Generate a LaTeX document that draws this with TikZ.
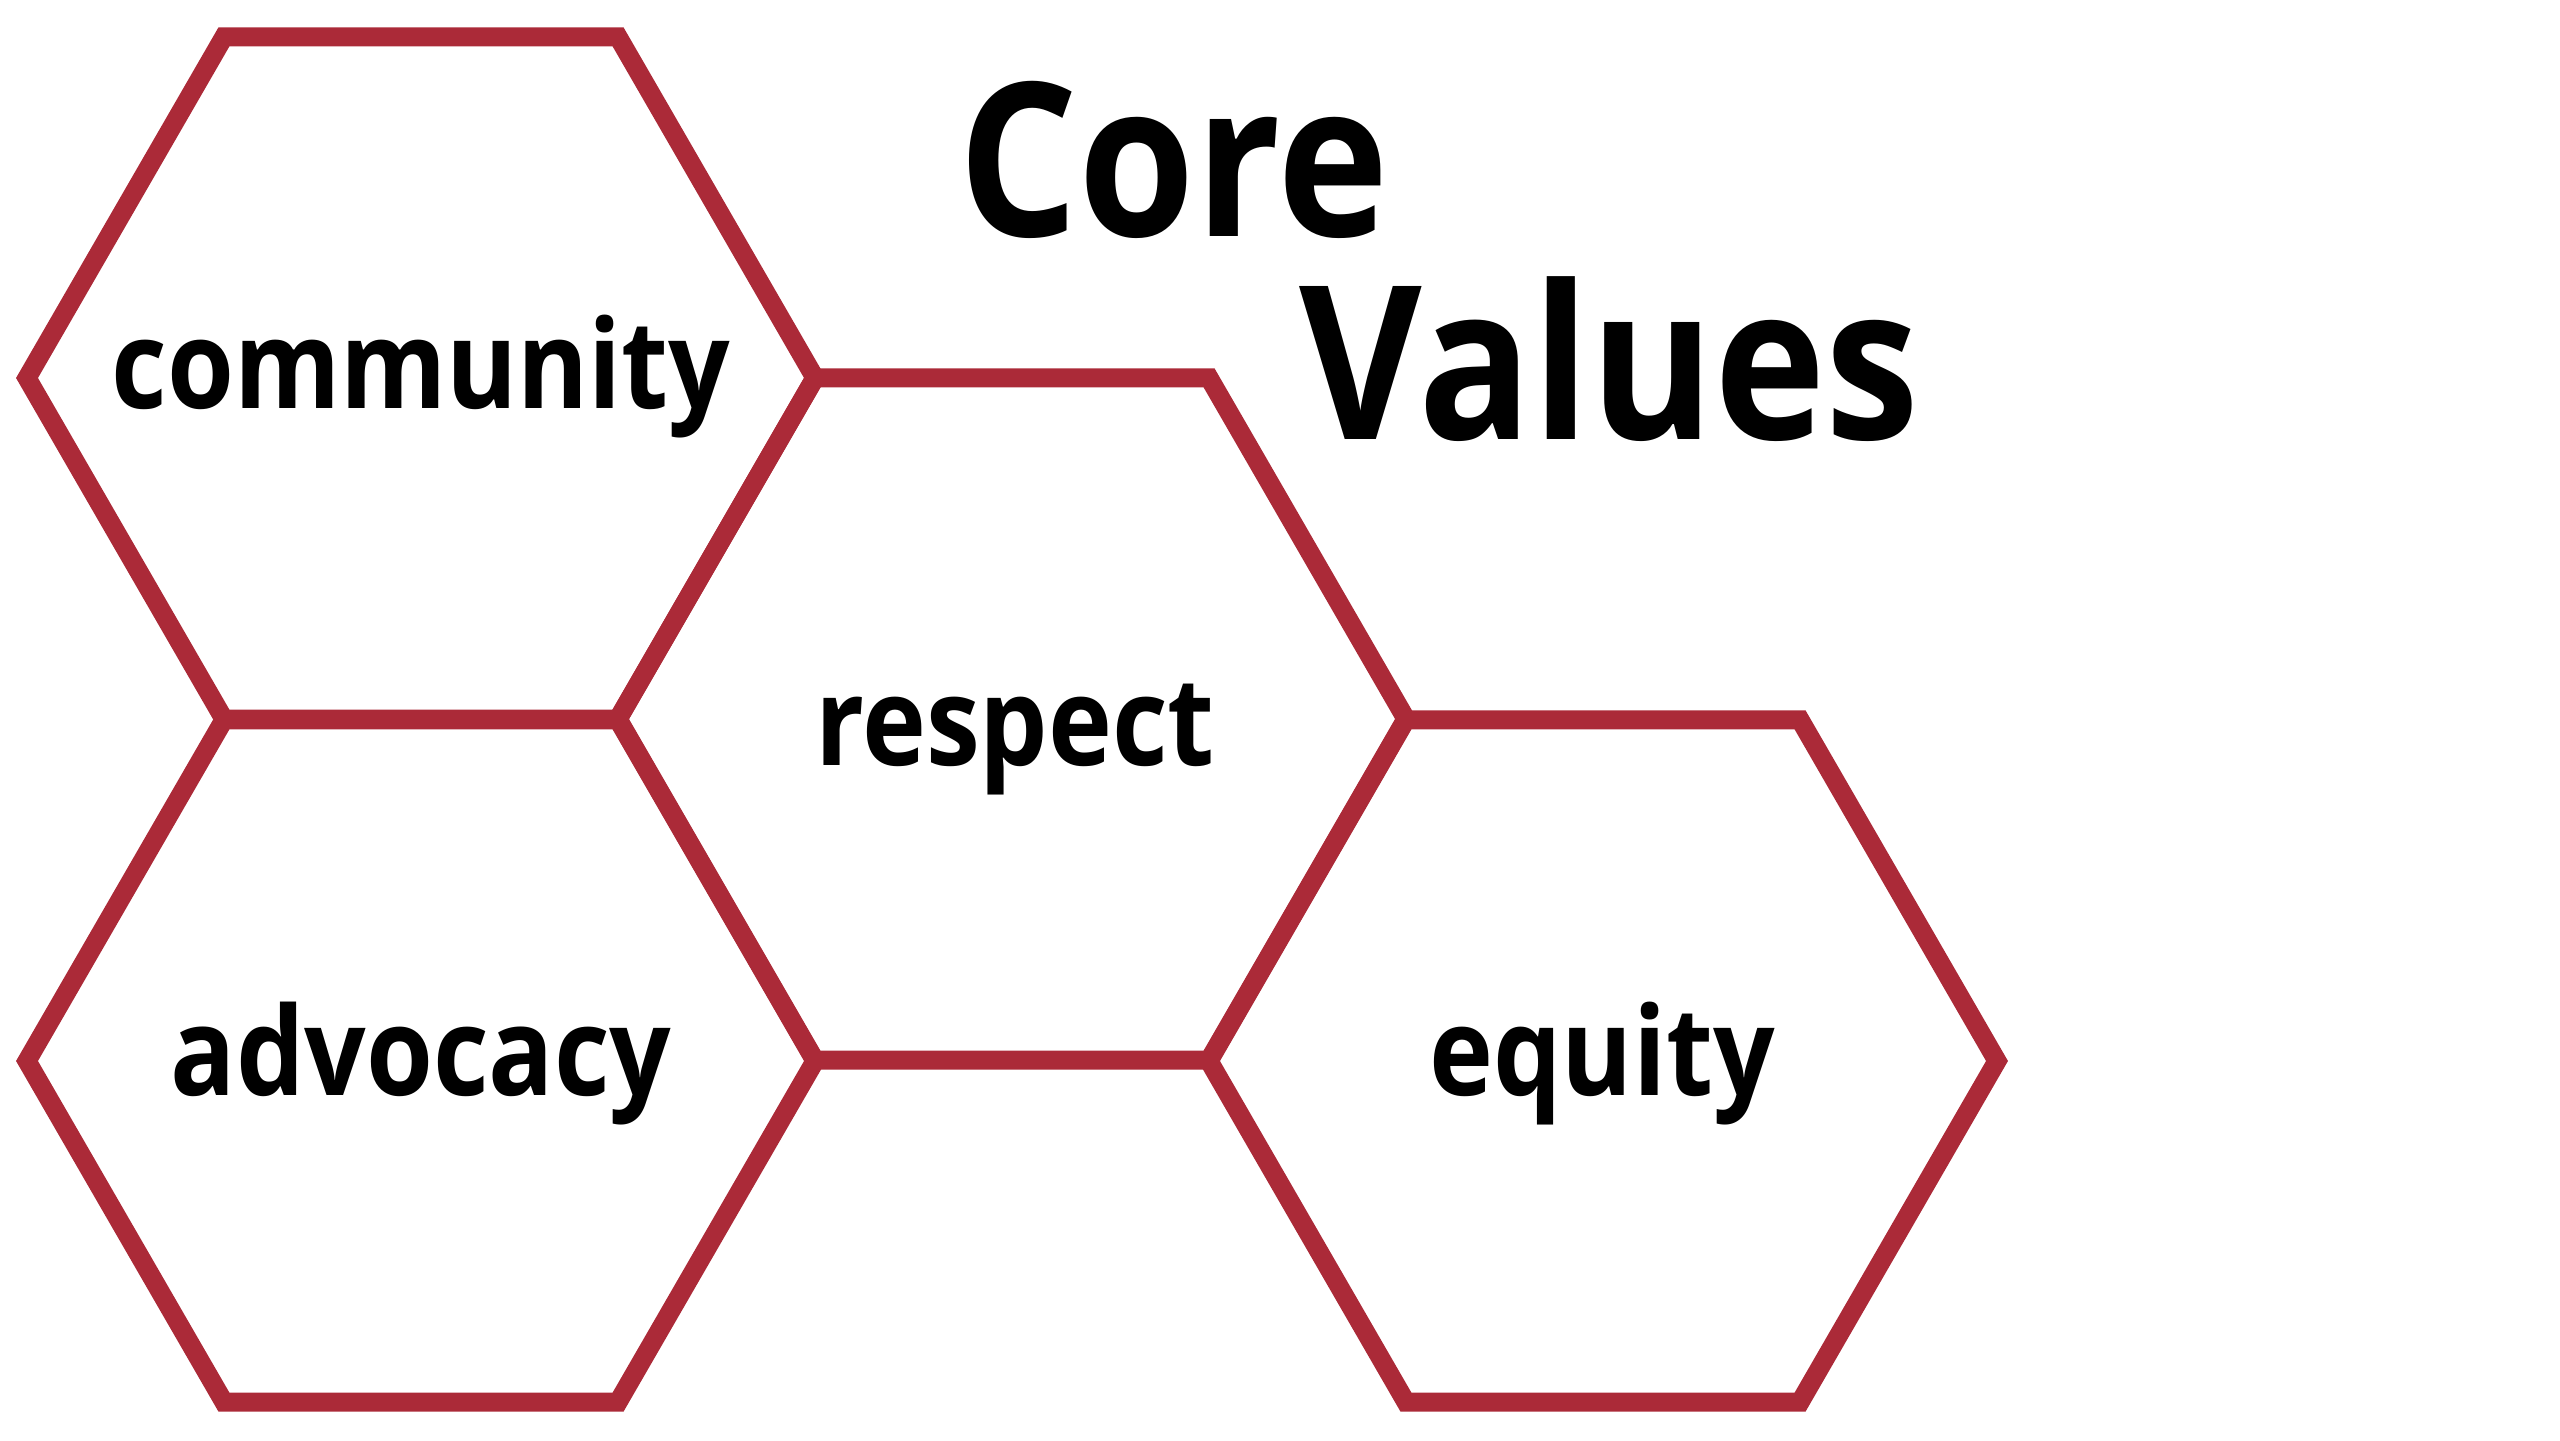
\documentclass[tikz,border=0pt]{standalone}
\usepackage{fontspec}
\setmainfont{Open Sans}[FakeStretch=0.88]
\usepackage{tikz}
\usetikzlibrary{shapes.geometric}
\definecolor{valuered}{RGB}{171,42,56}

\begin{document}
\begin{tikzpicture}[hex cell/.style={regular polygon,regular polygon sides=6,
					draw=valuered,line width=5.4pt,minimum size=7.88cm,inner sep=0pt},
				value label/.style={anchor=base,inner sep=0pt,
					font=\bfseries\fontsize{35pt}{40pt}\selectfont},
				title text/.style={anchor=base west,inner sep=0pt,
					font=\bfseries\fontsize{61pt}{70pt}\selectfont}]
				
				\useasboundingbox (0,0) rectangle (25.6,14.4);
				
				\node[hex cell] (community) at (4.21,10.62) {};
				\node[hex cell] (advocacy) at (4.21,3.79) {};
				\node[hex cell] (respect) at (10.12,7.21) {};
				\node[hex cell] (equity) at (16.03,3.79) {};
				
				\node[value label] (communitytext) at (4.21,10.31) {community};
				\node[value label] (respecttext) at (10.15,6.74) {respect};
				\node[value label] (advocacytext) at (4.21,3.44) {advocacy};
				\node[value label] (equitytext) at (16.02,3.44) {equity};
				
				\node[title text] (core) at (9.58,12.03) {Core};
				\node[title text] (values) at (12.99,10.00) {Values};
			\end{tikzpicture}
\end{document}
